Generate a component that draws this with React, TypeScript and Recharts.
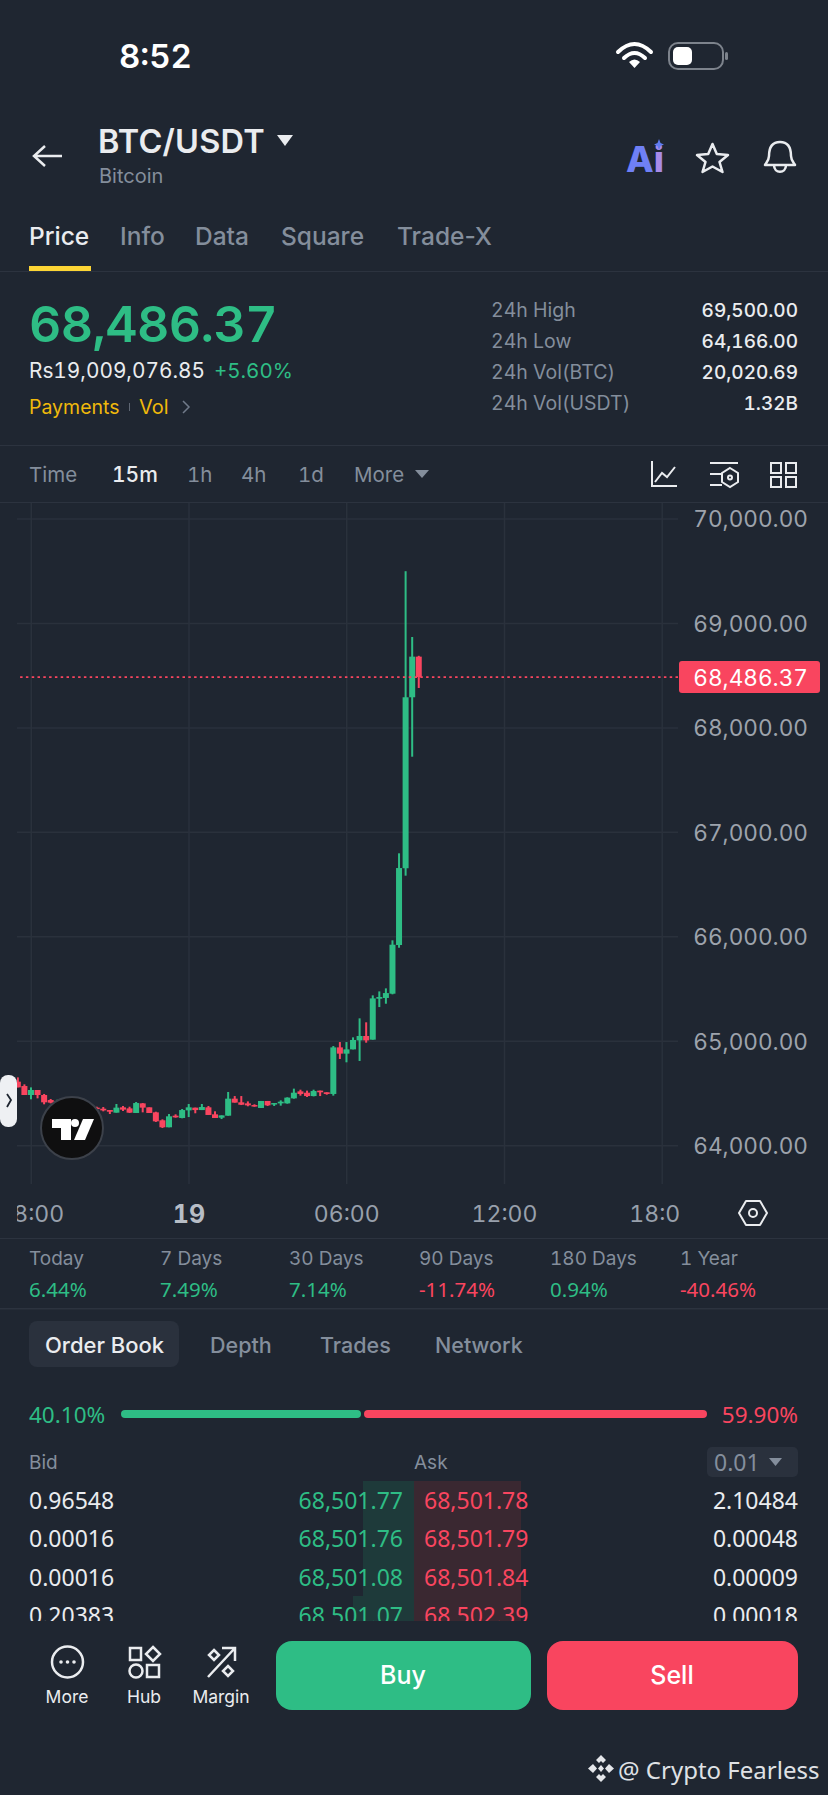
import { ComposedChart, Bar, XAxis, YAxis, CartesianGrid, ReferenceLine } from "recharts";

const opens = [64613, 64571, 64485, 64533, 64485, 64437, 64405, 64420, 64400, 64365, 64375, 64360, 64364, 64354, 64341, 64316, 64367, 64357, 64313, 64405, 64367, 64319, 64243, 64176, 64287, 64265, 64338, 64364, 64341, 64367, 64300, 64268, 64287, 64450, 64415, 64405, 64389, 64361, 64428, 64396, 64405, 64405, 64453, 64520, 64507, 64475, 64527, 64511, 64495, 64941, 64881, 64922, 65008, 65050, 65015, 65407, 65414, 65455, 65921, 66656, 68293, 68682];
const highs = [64654, 64587, 64558, 64533, 64495, 64447, 64440, 64430, 64410, 64395, 64385, 64370, 64373, 64370, 64341, 64399, 64380, 64373, 64418, 64408, 64367, 64325, 64252, 64303, 64300, 64351, 64399, 64364, 64399, 64380, 64329, 64290, 64514, 64475, 64475, 64424, 64396, 64428, 64428, 64408, 64434, 64463, 64546, 64536, 64527, 64536, 64527, 64511, 64954, 64992, 64992, 65037, 65219, 65181, 65439, 65477, 65506, 65966, 66799, 69500, 68870, 68690];
const lows = [64558, 64485, 64444, 64453, 64396, 64405, 64395, 64385, 64370, 64360, 64345, 64330, 64341, 64329, 64303, 64316, 64332, 64313, 64313, 64319, 64313, 64227, 64169, 64176, 64268, 64262, 64274, 64310, 64341, 64294, 64265, 64255, 64287, 64412, 64389, 64377, 64373, 64361, 64380, 64380, 64383, 64402, 64450, 64479, 64466, 64472, 64475, 64488, 64479, 64830, 64798, 64922, 64811, 64986, 65015, 65327, 65359, 65449, 65895, 66585, 67724, 68382];
const closes = [64558, 64485, 64533, 64485, 64415, 64412, 64428, 64395, 64380, 64385, 64355, 64340, 64354, 64338, 64325, 64364, 64345, 64316, 64408, 64364, 64313, 64233, 64176, 64281, 64271, 64341, 64367, 64341, 64370, 64294, 64265, 64290, 64450, 64412, 64392, 64386, 64377, 64428, 64386, 64408, 64421, 64460, 64507, 64495, 64475, 64523, 64511, 64495, 64941, 64881, 64922, 65012, 65050, 65008, 65410, 65423, 65461, 65924, 66658, 68293, 68682, 68486.37];

// slot 0 is midnight on the 19th, one slot is 15 minutes
const FIRST_SLOT = -26;
const timeTicks = [-24, 0, 24, 48, 72];
const timeLabels = ["18:00", "19", "06:00", "12:00", "18:00"];
const priceTicks = [64000, 65000, 66000, 67000, 68000, 69000, 70000];
const LAST_PRICE = 68486.37;

const tabs = [["Price", 29], ["Info", 120], ["Data", 195], ["Square", 281], ["Trade-X", 397]] as const;
const periods = [["Time", 29], ["15m", 112], ["1h", 187], ["4h", 241], ["1d", 298], ["More", 354]] as const;
const dayStats = [["24h High", "69,500.00"], ["24h Low", "64,166.00"], ["24h Vol(BTC)", "20,020.69"], ["24h Vol(USDT)", "1.32B"]];
const returnLabels = ["Today", "7 Days", "30 Days", "90 Days", "180 Days", "1 Year"];
const returnValues = ["6.44%", "7.49%", "7.14%", "-11.74%", "0.94%", "-40.46%"];
const returnX = [29, 160, 289, 419, 550, 680];
const bookTabs = [["Depth", 210], ["Trades", 320], ["Network", 435]] as const;
const bidSizes = ["0.96548", "0.00016", "0.00016", "0.20383"];
const bidPrices = ["68,501.77", "68,501.76", "68,501.08", "68,501.07"];
const askPrices = ["68,501.78", "68,501.79", "68,501.84", "68,502.39"];
const askSizes = ["2.10484", "0.00048", "0.00009", "0.00018"];
const rowY = [1500, 1538, 1577, 1615];

const BG = "#1f2631";
const GRID = "#2a313c";
const SEP = "#2c333f";
const GRAY = "#848e9c";
const LIGHT = "#eaecef";
const GREEN = "#2ebd85";
const RED = "#f9455f";
const FONT = "Inter, sans-serif";
const BOOK_FONT = "'Noto Sans', sans-serif";
const TABULAR = { fontVariantNumeric: "tabular-nums" };

const candles = opens.map((open, i) => ({
  slot: FIRST_SLOT + i,
  open,
  high: highs[i],
  low: lows[i],
  close: closes[i],
  range: [lows[i], highs[i]],
}));

function Candle(props: any) {
  const { x, y, width, height, payload } = props;
  const { open, close, high, low } = payload;
  const h = Math.abs(height);
  const toY = (v: number) => y + ((high - v) / (high - low)) * h;
  const color = close >= open ? GREEN : RED;
  const top = toY(Math.max(open, close));
  const bottom = toY(Math.min(open, close));
  return (
    <g>
      <rect x={x + width / 2 - 1} y={y} width={2} height={h} fill={color} />
      <rect x={x} y={top} width={width} height={Math.max(bottom - top, 1.5)} fill={color} />
    </g>
  );
}

function TimeTick(props: any) {
  const { x, y, payload } = props;
  const label = timeLabels[timeTicks.indexOf(payload.value)];
  const bold = label === "19";
  return (
    <g clipPath="url(#timeClip)">
      <text x={x} y={y} textAnchor="middle" dominantBaseline="central" fontFamily={FONT} fontSize={bold ? 25 : 23} fontWeight={bold ? 700 : 400} fill={bold ? "#b7bdc6" : "#98a0ac"} style={TABULAR}>
        {label}
      </text>
    </g>
  );
}

function PriceTick(props: any) {
  const { y, payload } = props;
  return (
    <text x={808} y={y} textAnchor="end" dominantBaseline="central" fontFamily={FONT} fontSize={22.6} fill="#9da3ac" style={TABULAR}>
      {payload.value.toLocaleString("en-US", { minimumFractionDigits: 2 })}
    </text>
  );
}

function PriceTag(props: any) {
  const y = props.viewBox.y;
  return (
    <g>
      <rect x={679} y={y - 16} width={141} height={32} rx={3} fill={RED} />
      <text x={808} y={y} textAnchor="end" dominantBaseline="central" fontFamily={FONT} fontSize={22.6} fill="#fff" style={TABULAR}>
        68,486.37
      </text>
    </g>
  );
}

function T({ x, y, s = 20, c = GRAY, w = 400, a = "start", f = FONT, ls = 0, plain = false, children }: any) {
  return (
    <text x={x} y={y} fontSize={s} fill={c} fontWeight={w} textAnchor={a} dominantBaseline="central" fontFamily={f} letterSpacing={ls} style={plain ? undefined : TABULAR}>
      {children}
    </text>
  );
}

function Chrome() {
  return (
    <svg width={828} height={1795} style={{ position: "absolute", left: 0, top: 0 }}>
      <defs>
        <clipPath id="bookClip">
          <rect x={0} y={1480} width={828} height={141} />
        </clipPath>
      </defs>

      {/* status bar */}
      <T x={119} y={56} s={33} c="#fff" w={600}>8:52</T>
      <g fill="none" stroke="#fff" strokeWidth={4} strokeLinecap="round">
        <path d="M618 52 Q634.500 36 651 52" />
        <path d="M624 58 Q634.500 48 645 58" />
      </g>
      <path d="M629 62 Q634.500 57 640 62 L634.500 68 Z" fill="#fff" />
      <rect x={669} y={43} width={54} height={26} rx={9} fill="none" stroke="#7d838c" strokeWidth={2} />
      <rect x={673} y={47} width={19} height={18} rx={5} fill="#fff" />
      <rect x={725} y={52} width={3} height={8} rx={1.5} fill="#7d838c" />

      {/* header */}
      <path d="M62 156 H35 M45 146 L34 156 L45 166" fill="none" stroke={LIGHT} strokeWidth={2.500} />
      <T x={98} y={141} s={32.5} c={LIGHT} w={600} ls={0.2} plain>BTC/USDT</T>
      <path d="M277 135 H293 L285 146 Z" fill={LIGHT} />
      <T x={99} y={176} s={20} plain>Bitcoin</T>
      <text x={626} y={172} fontFamily={FONT} fontSize={36} fontWeight={800} fill="#6f80f6">
        A<tspan fill="#a88be8">i</tspan>
      </text>
      <path d="M659 139 L660.500 143 L664 144.500 L660.500 146 L659 150 L657.500 146 L654 144.500 L657.500 143 Z" fill="#5f7cf2" />
      <path d="M712.500 144 L716.800 154 L728 155 L719.500 162 L722.500 172 L712.500 166.500 L702.500 172 L705.500 162 L697 155 L708.200 154 Z" fill="none" stroke={LIGHT} strokeWidth={2.500} strokeLinejoin="round" />
      <path d="M780 142 C771 142 769 149 769 156 C769 160 767 162 765 165 H795 C793 162 791 160 791 156 C791 149 789 142 780 142 Z M774 165 C774 174 786 174 786 165" fill="none" stroke={LIGHT} strokeWidth={2.500} strokeLinejoin="round" />

      {/* tabs */}
      {tabs.map(([label, x], i) => (
        <T key={label} x={x} y={236} s={24.5} c={i === 0 ? LIGHT : GRAY} w={500} plain>{label}</T>
      ))}
      <rect x={29} y={266} width={62} height={5} fill="#fcd535" />
      <rect x={0} y={271} width={828} height={1} fill={SEP} />

      {/* price block */}
      <T x={29} y={324} s={50} c={GREEN} w={600} ls={-0.6}>68,486.37</T>
      <T x={29} y={370} s={20.8} c={LIGHT}>Rs19,009,076.85</T>
      <T x={214} y={370} s={20.5} c={GREEN}>+5.60%</T>
      <T x={29} y={407} s={19.5} c="#f0b90b" plain>Payments</T>
      <rect x={129} y={403} width={1} height={8} fill="#5e6673" />
      <T x={139} y={407} s={20} c="#f0b90b" plain>Vol</T>
      <path d="M183 401 L189 407 L183 413" fill="none" stroke="#707a8a" strokeWidth={1.500} />
      {dayStats.map(([label, value], i) => (
        <g key={label}>
          <T x={491} y={310 + i * 31} s={19.5}>{label}</T>
          <T x={798} y={310 + i * 31} s={19} c={LIGHT} w={500} a="end">{value}</T>
        </g>
      ))}
      <rect x={0} y={445} width={828} height={1} fill={SEP} />

      {/* period row */}
      {periods.map(([label, x], i) => (
        <T key={label} x={x} y={474} s={i === 1 ? 21 : 20.5} c={i === 1 ? LIGHT : GRAY} w={i === 1 ? 500 : 400}>{label}</T>
      ))}
      <path d="M415 470 H429 L422 478 Z" fill={GRAY} />
      <g fill="none" stroke={LIGHT} strokeWidth={2}>
        <path d="M652 461 V486 H677 M655 482 L662 473 L667 477 L675 467" />
        <path d="M710 463 H738 M710 474 H722 M710 485 H722" />
        <path d="M730 468 L738 473 V482 L730 487 L722 482 V473 Z" />
        <circle cx={730} cy={477.500} r={2} />
        <rect x={771} y={463} width={10} height={10} />
        <rect x={786} y={463} width={10} height={10} />
        <rect x={771} y={477} width={10} height={10} />
        <rect x={786} y={477} width={10} height={10} />
      </g>
      <rect x={0} y={502} width={828} height={1} fill={SEP} />

      {/* tradingview badge and side handle */}
      <rect x={0} y={1075} width={17} height={52} rx={8} fill="#eef0f3" />
      <path d="M7 1094 L11 1100 L7 1107" fill="none" stroke="#1e2530" strokeWidth={1.800} />
      <circle cx={72} cy={1128} r={31} fill="#0f0f10" stroke="#3c414a" strokeWidth={2} />
      <path d="M52 1119 H71 V1140 H61 V1128 H52 Z" fill="#fff" />
      <circle cx={75} cy={1123} r={4} fill="#fff" />
      <path d="M83 1119 H94 L85 1140 H74 Z" fill="#fff" />

      {/* axis corner */}
      <path d="M739 1213 L746 1201 H760 L767 1213 L760 1225 H746 Z" fill="none" stroke={LIGHT} strokeWidth={2} strokeLinejoin="round" />
      <circle cx={753} cy={1213} r={4} fill="none" stroke={LIGHT} strokeWidth={2} />
      <rect x={0} y={1238} width={828} height={1} fill={SEP} />

      {/* returns */}
      {returnLabels.map((label, i) => (
        <g key={label}>
          <T x={returnX[i]} y={1258} s={19}>{label}</T>
          <T x={returnX[i]} y={1289} s={20.5} f={BOOK_FONT} c={returnValues[i].startsWith("-") ? RED : GREEN}>{returnValues[i]}</T>
        </g>
      ))}
      <rect x={0} y={1308} width={828} height={1.500} fill={SEP} />

      {/* order book */}
      <rect x={29} y={1321} width={150} height={46} rx={8} fill="#2a313d" />
      <T x={45} y={1345} s={22} c={LIGHT} w={500} plain>Order Book</T>
      {bookTabs.map(([label, x]) => (
        <T key={label} x={x} y={1345} s={21.5} w={500} plain>{label}</T>
      ))}
      <T x={29} y={1414} s={22.5} c={GREEN} f={BOOK_FONT}>40.10%</T>
      <T x={798} y={1414} s={22.5} c={RED} a="end" f={BOOK_FONT}>59.90%</T>
      <rect x={121} y={1410} width={240} height={8} rx={4} fill={GREEN} />
      <rect x={364} y={1410} width={343} height={8} rx={4} fill={RED} />
      <T x={29} y={1462} s={19} plain>Bid</T>
      <T x={414} y={1462} s={19} plain>Ask</T>
      <rect x={707} y={1447} width={91} height={30} rx={5} fill="#2a313d" />
      <T x={714} y={1462} s={23} f={BOOK_FONT}>0.01</T>
      <path d="M769 1458 H782 L775.500 1466 Z" fill={GRAY} />
      <g clipPath="url(#bookClip)">
        <rect x={363} y={1481} width={51} height={140} fill="#1e3a3a" />
        <rect x={353} y={1596} width={10} height={25} fill="#1e3a3a" />
        <rect x={414} y={1481} width={107} height={140} fill="#3a2831" />
        {rowY.map((y, i) => (
          <g key={y}>
            <T x={29} y={y} s={23} c={LIGHT} f={BOOK_FONT}>{bidSizes[i]}</T>
            <T x={403} y={y} s={23} c={GREEN} a="end" f={BOOK_FONT}>{bidPrices[i]}</T>
            <T x={424} y={y} s={23} c={RED} f={BOOK_FONT}>{askPrices[i]}</T>
            <T x={798} y={y} s={23} c={LIGHT} a="end" f={BOOK_FONT}>{askSizes[i]}</T>
          </g>
        ))}
      </g>

      {/* bottom nav */}
      <circle cx={67.500} cy={1662} r={15.500} fill="none" stroke={LIGHT} strokeWidth={2.500} />
      <circle cx={61} cy={1662} r={1.800} fill={LIGHT} />
      <circle cx={67.500} cy={1662} r={1.800} fill={LIGHT} />
      <circle cx={74} cy={1662} r={1.800} fill={LIGHT} />
      <g fill="none" stroke={LIGHT} strokeWidth={2.500}>
        <rect x={130} y={1648} width={11} height={12} />
        <path d="M153 1647 L160 1654 L153 1661 L146 1654 Z" />
        <circle cx={136} cy={1671} r={6.500} />
        <rect x={147} y={1665} width={12} height={12} />
        <path d="M208 1677 L235 1648 M222 1648 H235 V1661" />
        <path d="M214 1650 L219 1655 L214 1660 L209 1655 Z" />
        <path d="M228 1666 L233 1671 L228 1676 L223 1671 Z" />
      </g>
      <T x={67} y={1696} s={17.5} c={LIGHT} a="middle" plain>More</T>
      <T x={144} y={1696} s={17.5} c={LIGHT} a="middle" plain>Hub</T>
      <T x={221} y={1696} s={17.5} c={LIGHT} a="middle" plain>Margin</T>
      <rect x={276} y={1641} width={255} height={69} rx={16} fill={GREEN} />
      <rect x={547} y={1641} width={251} height={69} rx={16} fill={RED} />
      <T x={403} y={1675} s={25} c="#fff" w={500} a="middle" plain>Buy</T>
      <T x={672} y={1675} s={25} c="#fff" w={500} a="middle" plain>Sell</T>

      {/* watermark */}
      <g fill="#e4e6ea">
        <path d="M601 1755 L606 1760 L603 1763 L601 1761 L599 1763 L596 1760 Z" />
        <path d="M601 1782 L606 1777 L603 1774 L601 1776 L599 1774 L596 1777 Z" />
        <path d="M593 1764 L597 1768.500 L593 1773 L588 1768.500 Z" />
        <path d="M609 1764 L614 1768.500 L609 1773 L605 1768.500 Z" />
        <path d="M601 1765 L604 1768.500 L601 1772 L598 1768.500 Z" />
      </g>
      <T x={618} y={1769} s={24} c="#dfe1e5" f={BOOK_FONT} plain>@ Crypto Fearless</T>
    </svg>
  );
}

export default function App() {
  return (
    <div style={{ position: "absolute", left: 0, top: 0, width: 828, height: 1795, background: BG, overflow: "hidden" }}>
      <div style={{ position: "absolute", left: 0, top: 503 }}>
        <ComposedChart width={828} height={735} data={candles} margin={{ top: 0, right: 0, bottom: 0, left: 17 }}>
          <defs>
            <clipPath id="timeClip">
              <rect x={17} y={680} width={662} height={55} />
            </clipPath>
          </defs>
          <CartesianGrid stroke={GRID} strokeWidth={1.500} verticalValues={timeTicks} horizontalValues={priceTicks} />
          <XAxis
            dataKey="slot"
            type="number"
            domain={[-26.17, 74.4]}
            allowDataOverflow
            ticks={timeTicks}
            interval={0}
            height={54}
            axisLine={false}
            tickLine={false}
            tick={<TimeTick />}
            tickMargin={24}
          />
          <YAxis
            orientation="right"
            type="number"
            domain={[63633, 70153]}
            allowDataOverflow
            ticks={priceTicks}
            interval={0}
            width={150}
            axisLine={false}
            tickLine={false}
            tick={<PriceTick />}
          />
          <ReferenceLine y={LAST_PRICE} stroke={RED} strokeWidth={1.700} strokeDasharray="2.5 3.3" label={<PriceTag />} />
          <Bar dataKey="range" barSize={6} isAnimationActive={false} shape={<Candle />} />
        </ComposedChart>
      </div>
      <Chrome />
    </div>
  );
}
